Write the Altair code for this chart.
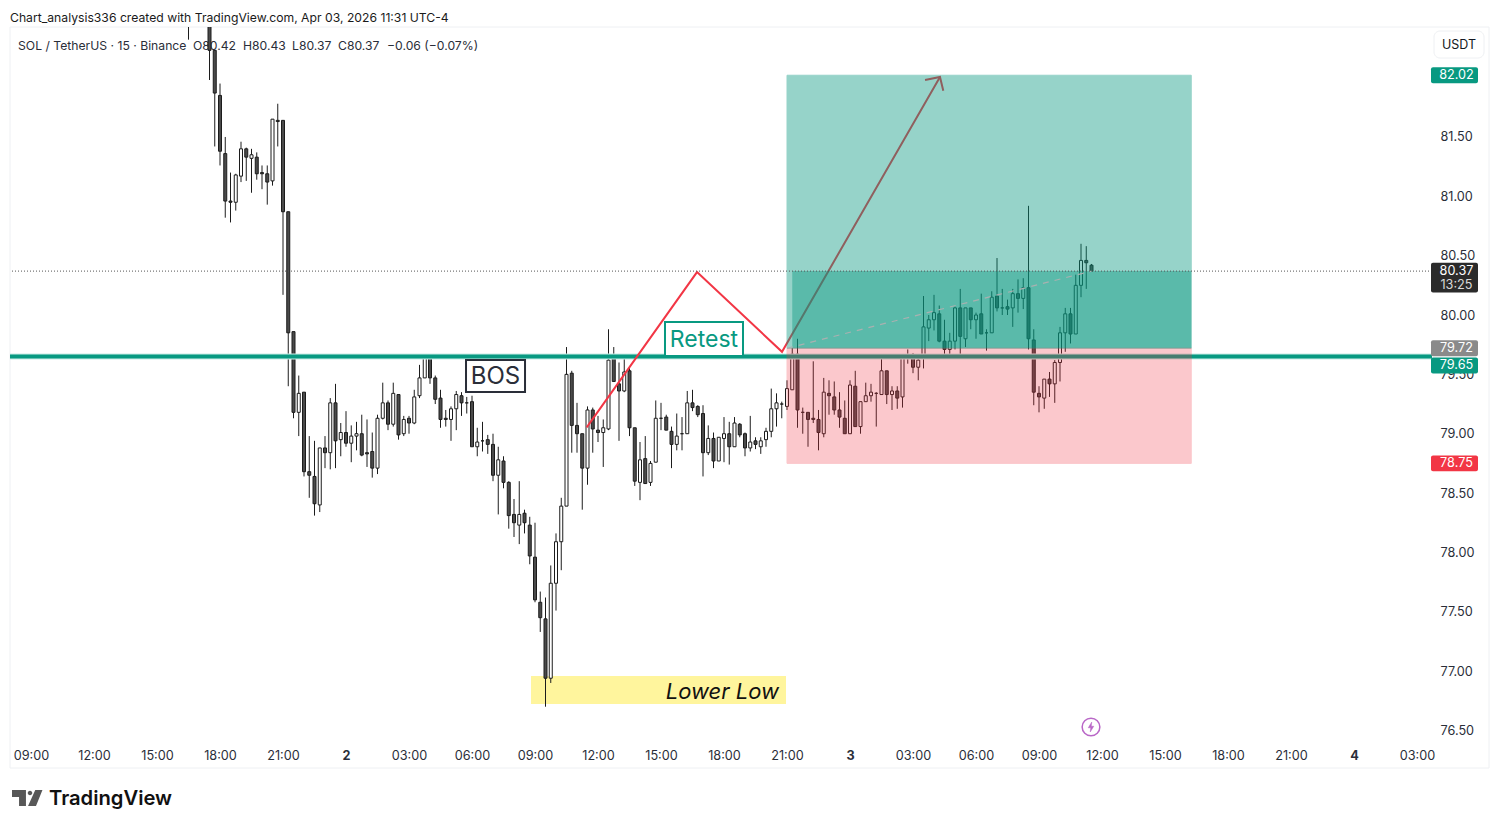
import json
import altair as alt
import pandas as pd

FIRST_BAR = 30
opens = [
    83.1,83.3,83.2,82.9,82.6,82.23,81.85,81.36,80.96,80.95,
    81.17,81.40,81.32,81.33,81.20,81.19,81.13,81.64,81.64,80.87,
    79.86,79.18,79.35,78.68,78.64,78.40,78.88,78.84,79.26,78.95,
    79.01,78.92,78.98,79.00,78.84,78.85,78.71,79.13,79.26,79.08,
    79.33,79.00,79.13,79.09,79.32,79.47,79.64,79.47,79.30,79.13,
    79.12,79.21,79.32,79.26,79.27,78.89,78.94,78.95,78.91,78.65,
    78.77,78.59,78.32,78.23,78.33,78.23,77.96,77.58,77.44,76.94,
    77.74,78.09,78.39,79.51,79.07,79.00,78.71,79.20,79.03,79.01,
    79.04,79.64,79.42,79.36,79.53,79.05,78.59,78.79,78.59,78.76,
    79.13,79.14,79.02,78.91,79.00,79.00,79.26,79.23,79.17,78.84,
    78.96,78.77,78.96,79.00,78.89,79.08,79.00,78.88,78.94,78.89,
    78.95,79.02,79.21,79.25,79.23,79.37,79.67,79.18,79.18,79.13,
    79.12,79.00,79.34,79.31,79.20,79.13,79.00,79.40,79.06,79.27,
    79.32,79.34,79.33,79.53,79.33,79.36,79.31,79.64,79.65,79.56,
    79.64,79.89,79.96,80.01,79.78,79.71,79.78,80.06,79.80,80.06,
    79.96,80.01,79.85,79.85,80.16,80.06,80.07,80.06,80.18,80.14,
    80.23,79.79,79.34,79.30,79.46,79.42,79.60,79.85,80.01,79.84,
    80.25,80.46,80.42,
]
closes = [
    83.0,83.2,82.95,82.6,82.23,81.87,81.38,80.96,80.95,81.18,
    81.40,81.33,81.35,81.19,81.19,81.12,81.65,81.63,80.87,79.85,
    79.18,79.34,78.68,78.65,78.41,78.88,78.84,79.26,78.94,79.01,
    78.92,78.98,79.00,78.82,78.83,78.71,79.13,79.26,79.08,79.34,
    78.99,79.12,79.09,79.31,79.47,79.65,79.47,79.29,79.12,79.12,
    79.21,79.33,79.26,79.26,78.89,78.93,78.94,78.91,78.65,78.78,
    78.59,78.31,78.25,78.32,78.25,77.97,77.60,77.45,76.94,77.74,
    78.09,78.39,79.50,79.07,79.00,78.71,79.20,79.04,79.01,79.05,
    79.62,79.44,79.36,79.52,79.05,78.60,78.78,78.58,78.75,79.13,
    79.13,79.03,78.91,78.98,79.00,79.26,79.22,79.16,78.84,78.96,
    78.77,78.97,79.00,78.89,79.09,78.99,78.88,78.93,78.91,78.94,
    79.02,79.21,79.26,79.25,79.38,79.67,79.20,79.18,79.12,79.12,
    79.01,79.35,79.32,79.20,79.14,79.00,79.41,79.06,79.27,79.32,
    79.35,79.34,79.53,79.33,79.36,79.30,79.64,79.65,79.56,79.62,
    79.90,79.96,80.02,79.78,79.71,79.78,80.06,79.82,80.06,79.96,
    80.00,79.84,79.85,80.15,80.06,80.06,80.05,80.18,80.14,80.23,
    79.80,79.35,79.31,79.46,79.42,79.60,79.85,80.01,79.84,80.25,
    80.46,80.44,80.37,
]
highs = [
    83.2,83.4,83.3,83.0,82.7,82.23,81.95,81.50,81.20,81.19,
    81.46,81.41,81.40,81.37,81.26,81.26,81.65,81.78,81.64,80.87,
    79.86,79.49,79.35,78.98,78.94,78.88,78.98,79.30,79.42,79.09,
    79.19,79.07,79.10,79.16,79.12,79.01,79.16,79.43,79.28,79.43,
    79.33,79.15,79.15,79.37,79.58,79.67,79.65,79.49,79.37,79.20,
    79.23,79.36,79.35,79.31,79.32,79.05,79.10,78.99,79.00,78.89,
    78.81,78.60,78.45,78.60,78.36,78.30,78.25,77.67,77.62,77.89,
    78.16,78.46,79.73,79.53,79.26,79.00,79.23,79.22,79.15,79.12,
    79.88,79.73,79.60,79.64,79.56,79.05,78.93,78.98,78.77,79.28,
    79.26,79.16,79.06,79.17,79.14,79.36,79.37,79.24,79.24,79.07,
    79.01,78.97,79.14,79.10,79.14,79.09,79.01,79.15,78.97,78.97,
    79.05,79.38,79.34,79.27,79.45,79.72,79.80,79.22,79.18,79.61,
    79.20,79.47,79.45,79.44,79.35,79.28,79.45,79.53,79.27,79.43,
    79.42,79.35,79.65,79.53,79.40,79.40,79.65,79.71,79.68,79.64,
    80.16,80.00,80.17,80.08,79.96,79.85,80.07,80.22,80.06,80.06,
    80.02,80.18,79.88,80.20,80.48,80.22,80.13,80.22,80.30,80.31,
    80.92,79.88,79.40,79.46,79.52,79.62,79.90,80.06,80.06,80.34,
    80.60,80.58,80.43,
]
lows = [
    82.32,82.9,82.7,82.6,81.98,81.42,81.26,80.82,80.78,80.88,
    81.12,81.13,81.03,81.14,81.06,80.93,81.09,81.42,80.17,79.40,
    79.13,78.98,78.64,78.46,78.31,78.34,78.71,78.70,78.71,78.81,
    78.89,78.76,78.86,78.81,78.72,78.63,78.66,79.12,79.03,79.06,
    78.95,78.98,79.00,79.08,79.30,79.47,79.42,79.25,79.05,79.06,
    78.94,79.03,79.15,79.17,78.89,78.81,78.85,78.83,78.60,78.32,
    78.54,78.20,78.13,78.07,78.16,77.90,77.58,77.33,76.70,76.90,
    77.51,77.85,78.39,78.84,78.84,78.36,78.57,78.84,78.93,78.72,
    79.03,79.44,78.94,79.35,78.98,78.56,78.44,78.58,78.56,78.76,
    79.03,79.03,78.71,78.86,78.86,79.00,79.19,79.14,78.64,78.82,
    78.71,78.77,78.76,78.74,78.89,78.97,78.81,78.85,78.87,78.83,
    78.89,78.97,79.06,79.13,79.20,79.37,79.05,79.00,78.89,79.09,
    78.86,78.97,79.16,79.16,79.05,79.00,79.00,79.06,79.00,79.27,
    79.27,79.06,79.33,79.25,79.20,79.21,79.22,79.59,79.51,79.45,
    79.55,79.78,79.87,79.77,79.65,79.66,79.71,79.66,79.73,79.88,
    79.80,79.84,79.70,79.85,80.03,80.00,80.00,79.90,80.02,80.05,
    79.71,79.24,79.18,79.21,79.31,79.26,79.44,79.69,79.76,79.84,
    80.15,80.22,80.37,
]
assert len(opens) == len(closes) == len(highs) == len(lows) == 173

y_ticks = [76.5, 77.0, 77.5, 78.0, 78.5, 79.0, 79.5, 80.0, 80.5, 81.0, 81.5]
x_labels = ["09:00","12:00","15:00","18:00","21:00","2","03:00","06:00","09:00","12:00","15:00",
            "18:00","21:00","3","03:00","06:00","09:00","12:00","15:00","18:00","21:00","4","03:00"]
x_ticks = [12 * k for k in range(len(x_labels))]

TP, ENTRY, STOP, LAST, LEVEL = 82.02, 79.72, 78.75, 80.37, 79.65
ZONE_L, ZONE_DARK_L, ZONE_R = 144.0, 145.0, 221.0

zigzag_bars = [105.85, 126.86, 143.05, 173.14]
zigzag_prices = [79.054, 80.362, 79.69, 82.005]
head_bars = [170.29, 173.14, 173.77]
head_prices = [81.98, 82.005, 81.89]

TEAL, RED = "#089981", "#f23645"
FONT = "Inter"
INK = "#2a2e39"

W, H = 1422, 713
x_scale = alt.Scale(domain=[-4, 266.857], nice=False, zero=False, padding=0)
y_scale = alt.Scale(domain=[76.4195, 82.4265], nice=False, zero=False, padding=0)
x_axis = alt.Axis(
    values=x_ticks, title=None, grid=False, domain=False, ticks=False,
    labelExpr=json.dumps(x_labels) + "[datum.value / 12]",
    labelFont=FONT, labelFontSize=12.7, labelColor=INK, labelPadding=9,
    labelOverlap=False, labelFlush=False, labelBound=False,
    labelFontWeight=alt.condition("datum.value % 96 == 60", alt.value(700), alt.value(400)),
)
y_axis = alt.Axis(
    orient="right", values=y_ticks, format=".2f", title=None, grid=False, domain=False, ticks=False,
    labelFont=FONT, labelFontSize=12.7, labelColor=INK, labelPadding=8,
    labelOverlap=False, labelFlush=False, labelBound=False,
)
X = lambda f: alt.X(f, type="quantitative", scale=x_scale, axis=x_axis)
Y = lambda f: alt.Y(f, type="quantitative", scale=y_scale, axis=y_axis)
ONE = alt.Data(values=[{"a": 1}])


def txt(s, px, py, size=12.2, color=INK, align="left", weight=400, style="normal"):
    return alt.Chart(ONE).mark_text(
        text=s, font=FONT, fontSize=size, color=color, align=align, baseline="middle",
        fontWeight=weight, fontStyle=style,
    ).encode(x=alt.value(px - 10), y=alt.value(py - 27))


def box(x0, x1, y0, y1, **kw):
    return alt.Chart(ONE).mark_rect(**kw).encode(
        x=alt.value(x0 - 10), x2=alt.value(x1 - 10), y=alt.value(y0 - 27), y2=alt.value(y1 - 27)
    )


candles = pd.DataFrame({
    "bar": list(range(FIRST_BAR, FIRST_BAR + len(opens))),
    "open": opens, "high": highs, "low": lows, "close": closes,
})

wicks = alt.Chart(candles).mark_rule(clip=True, color="#1c1c1c", strokeWidth=1).encode(
    x=X("bar"), y=Y("low"), y2="high"
)
bodies = alt.Chart(candles).mark_bar(
    clip=True, size=3, orient="vertical", stroke="#1c1c1c", strokeWidth=1
).encode(
    x=X("bar"), y=Y("open"), y2="close",
    fill=alt.condition("datum.close > datum.open", alt.value("#ffffff"), alt.value("#4a4a4a")),
)

level_halo = alt.Chart(pd.DataFrame({"p": [LEVEL]})).mark_rule(color="#c9ece6", strokeWidth=6).encode(y=Y("p"))
level_line = alt.Chart(pd.DataFrame({"p": [LEVEL]})).mark_rule(color=TEAL, strokeWidth=4).encode(y=Y("p"))


def poly(bars, prices, **kw):
    df = pd.DataFrame({"bar": bars, "price": prices, "seq": list(range(len(bars)))})
    return alt.Chart(df).mark_line(**kw).encode(x=X("bar"), y=Y("price"), order="seq:Q")


red_path = poly(zigzag_bars, zigzag_prices, color=RED, strokeWidth=2)
red_head = poly(head_bars, head_prices, color=RED, strokeWidth=2)


def zone(x0, x1, p0, p1, color, op, **kw):
    df = pd.DataFrame({"x0": [x0], "x1": [x1], "p0": [p0], "p1": [p1]})
    return alt.Chart(df).mark_rect(color=color, opacity=op, **kw).encode(
        x=X("x0"), x2="x1", y=Y("p0"), y2="p1"
    )


zone_tp = zone(ZONE_L, ZONE_R, ENTRY, TP, TEAL, 0.42, stroke=TEAL, strokeWidth=1)
zone_open = zone(ZONE_DARK_L, ZONE_R, ENTRY, LAST, TEAL, 0.42)
zone_sl = zone(ZONE_L, ZONE_R, STOP, ENTRY, RED, 0.27, stroke=RED, strokeWidth=1)

trade_dash = poly([ZONE_L, 202.0], [ENTRY, LAST], color="#a9b1b0", strokeWidth=1.2, strokeDash=[6, 6])
last_line = alt.Chart(pd.DataFrame({"p": [LAST]})).mark_rule(color="#555555", strokeWidth=1, strokeDash=[1, 2]).encode(y=Y("p"))

yellow = zone(95.24, 143.81, 76.723, 76.959, "#fff59d", 1)
lower_low = alt.Chart(pd.DataFrame({"b": [142.48], "p": [76.824]})).mark_text(
    text="Lower Low", font=FONT, fontSize=22, fontStyle="italic", color="#111111", align="right", baseline="middle"
).encode(x=X("b"), y=Y("p"))


def note(x0, x1, p0, p1, text, edge, ink, size):
    df = pd.DataFrame({"x0": [x0], "x1": [x1], "p0": [p0], "p1": [p1],
                       "xm": [(x0 + x1) / 2], "pm": [(p0 + p1) / 2 + 0.008]})
    frame = alt.Chart(df).mark_rect(fill="#ffffff", stroke=edge, strokeWidth=2).encode(
        x=X("x0"), x2="x1", y=Y("p0"), y2="p1")
    label = alt.Chart(df).mark_text(
        text=text, font=FONT, fontSize=size, color=ink, align="center", baseline="middle", dy=2
    ).encode(x=X("xm"), y=Y("pm"))
    return [frame, label]


bos = note(82.86, 94.1, 79.351, 79.62, "BOS", "#2a2e39", "#2a2e39", 24)
retest = note(120.76, 135.62, 79.655, 79.941, "Retest", TEAL, TEAL, 23)

tag_df = pd.DataFrame({
    "top":    [82.087, 79.787, 79.642, 78.817, 80.44],
    "bottom": [81.953, 79.653, 79.508, 78.683, 80.19],
    "color":  [TEAL, "#8a8a8a", TEAL, RED, "#2b2b2b"],
})
tags = alt.Chart(tag_df).mark_rect(cornerRadius=2).encode(
    x=alt.value(1421), x2=alt.value(1468),
    y=Y("top"), y2="bottom",
    color=alt.Color("color:N", scale=None, legend=None),
)
tag_text_df = pd.DataFrame({
    "label": ["82.02", "79.72", "79.65", "78.75", "80.37", "13:25"],
    "p": [82.02, 79.72, 79.575, 78.75, 80.37, 80.252],
    "c": ["#ffffff", "#ffffff", "#ffffff", "#ffffff", "#ffffff", "#d9d9d9"],
})
tag_text = alt.Chart(tag_text_df).mark_text(font=FONT, fontSize=12.7, align="center", baseline="middle").encode(
    x=alt.value(1446.5), y=Y("p"), text="label:N",
    color=alt.Color("c:N", scale=None, legend=None),
)

purple = "#9c27b0"
bolt = "M0.15,-1 L-0.55,0.15 L-0.05,0.15 L-0.15,1 L0.55,-0.15 L0.05,-0.15 Z"
logo = ("M-1,-0.53 L-0.07,-0.53 L-0.07,0.53 L-0.53,0.53 L-0.53,-0.07 L-1,-0.07 Z "
        "M0.05,-0.33 A0.15,0.15 0 1 1 0.35,-0.33 A0.15,0.15 0 1 1 0.05,-0.33 Z "
        "M0.55,-0.53 L1.03,-0.53 L0.6,0.53 L0.07,0.53 Z")


def glyph(px, py, shape, size, **kw):
    return alt.Chart(ONE).mark_point(shape=shape, size=size, **kw).encode(
        x=alt.value(px - 10), y=alt.value(py - 27))


layers = [
    box(10, 1489, 27, 768, fill="transparent", stroke="#eef0f3", strokeWidth=1),
    txt("Chart_analysis336 created with TradingView.com, Apr 03, 2026 11:31 UTC-4", 10, 18, 12.2, "#1a1a1a"),
    txt("SOL / TetherUS · 15 · Binance", 18, 45.5),
    txt("O80.42", 193, 45.5),
    txt("H80.43", 243, 45.5),
    txt("L80.37", 292, 45.5),
    txt("C80.37", 338, 45.5),
    txt("−0.06 (−0.07%)", 387, 45.5),
    yellow, wicks, bodies, level_halo, level_line, red_path, red_head,
    zone_tp, zone_open, zone_sl, trade_dash, last_line, lower_low, *bos, *retest,
    tags, tag_text,
    box(1434, 1484, 31, 58, fill="#ffffff", stroke="#eef0f3", strokeWidth=1, cornerRadius=6),
    txt("USDT", 1459, 45, 12.5, "#131722", align="center"),
    glyph(1091, 727, "circle", 314, stroke=purple, strokeWidth=1.5, filled=False),
    glyph(1091, 727, bolt, 100, fill=purple, stroke=purple, strokeWidth=0.5, filled=True),
    glyph(27, 798, logo, 900, fill="#111111", stroke="#111111", strokeWidth=0, filled=True),
    txt("TradingView", 49, 798.5, 20.2, "#111111", weight=600),
]

chart = alt.layer(*layers).properties(
    width=W, height=H,
    padding={"left": 2, "top": 19, "right": 58, "bottom": 72},
    autosize=alt.AutoSizeParams(type="none"),
).configure_view(stroke=None)

chart.save("out.html", embed_options={"renderer": "svg", "actions": False})
